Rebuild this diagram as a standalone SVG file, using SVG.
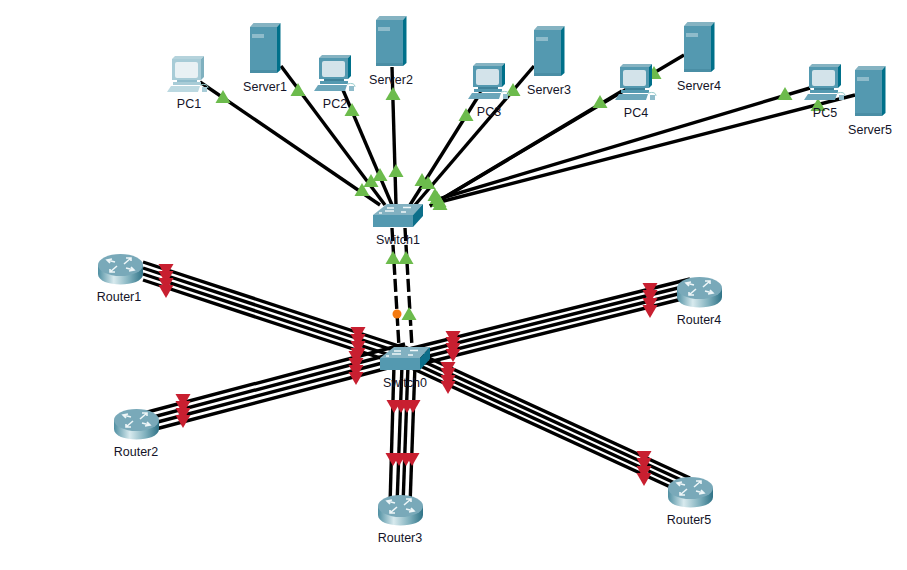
<svg xmlns="http://www.w3.org/2000/svg" width="907" height="570" viewBox="0 0 907 570">
<style>
text{font-family:"Liberation Sans",Arial,sans-serif;font-size:12.5px;fill:#141428;text-anchor:middle}
.l{stroke:#000;stroke-width:3.4;fill:none}
.d{stroke-dasharray:13 4}
.g{fill:#6cbb4c}
.r{fill:#c81f30}
.wh{stroke:#eef6f8;stroke-width:1.6;fill:none}
</style>
<defs>
<linearGradient id="cyl" x1="0" x2="1" y1="0" y2="0">
<stop offset="0" stop-color="#4f8fa2"/><stop offset=".35" stop-color="#d8eaee"/><stop offset=".7" stop-color="#7fb0bd"/><stop offset="1" stop-color="#2f7286"/>
</linearGradient>
<polygon id="gt" class="g" points="0,-7 7.5,6 -7.500,6"/>
<polygon id="rt" class="r" points="-7.500,0 7.500,0 0,13"/>
<g id="server">
<polygon points="0,0 3.5,-4 30.500,-4 27,0" fill="#85b3c2"/>
<polygon points="27,0 30.500,-4 30.500,43 27,46" fill="#00708a"/>
<rect x="0" y="0" width="27" height="46" fill="#5499b0"/>
<rect x="2" y="7" width="12" height="4" fill="#8fbccb"/>
<rect x="0" y="43" width="27" height="3" fill="#4a8ea5"/>
</g>
<g id="pc">
<polygon points="5,3 8,0 37,0 34,3" fill="#85b3c2"/>
<polygon points="34,3 37,0 37,21 34,24" fill="#00708a"/>
<rect x="5" y="3" width="29" height="21" fill="#5499b0"/>
<rect x="8" y="6" width="23" height="16" rx="2" fill="#d3e3ea"/>
<rect x="10" y="24" width="20" height="2" fill="#3f8299"/>
<rect x="6" y="26" width="28" height="3" fill="#5499b0"/>
<polygon points="4,30 33,30 31,36 0,36" fill="#6ba6ba"/>
<path d="M33,29 q8,-2 8,3" stroke="#9cc" fill="none"/>
<rect x="35" y="31" width="5" height="5" fill="#8fbccb"/>
</g>
<g id="pcl">
<polygon points="5,3 8,0 37,0 34,3" fill="#b5d3dc"/>
<polygon points="34,3 37,0 37,21 34,24" fill="#7fb0bf"/>
<rect x="5" y="3" width="29" height="21" fill="#a8ccd7"/>
<rect x="8" y="6" width="23" height="16" rx="2" fill="#e9f1f4"/>
<rect x="10" y="24" width="20" height="2" fill="#8fbccb"/>
<rect x="6" y="26" width="28" height="3" fill="#a8ccd7"/>
<polygon points="4,30 33,30 31,36 0,36" fill="#bcd9e1"/>
<path d="M33,29 q8,-2 8,3" stroke="#9cc" fill="none"/>
<rect x="35" y="31" width="5" height="5" fill="#a8ccd7"/>
</g>
<g id="router">
<path d="M0,11 V20 C0,34 45,34 45,20 V11 Z" fill="url(#cyl)"/>
<ellipse cx="22.500" cy="11" rx="22.500" ry="11" fill="#79a9b9"/>
<path class="wh" d="M9,6 L17,8 M14,5 L9,6 L12,9 M36,16 L28,14 M31,17 L36,16 L33,13 M26,10 L33,4 M28,4 L33,4 L33,7 M19,12 L12,18 M17,18 L12,18 L12,15"/>
</g>
<g id="switch">
<polygon points="0,11 14,0 50,0 40,11" fill="#82b1c1"/>
<polygon points="40,11 50,0 50,12 40,23" fill="#0c6f8a"/>
<rect x="0" y="11" width="40" height="12" fill="#5499b0"/>
<path class="wh" d="M12,7 h9 M14,4 h7 M30,3.500 h8 M28,8 h5 M6,9 h3"/>
</g>
</defs>
<rect width="907" height="570" fill="#fff"/>
<g id="connectors">
<g class="l">
<path d="M200,82 L380,205"/>
<path d="M281,66 L385,205"/>
<path d="M343,90 L392,205"/>
<path d="M392,67 L396,205"/>
<path d="M481,92 L410,205"/>
<path d="M534,66 L415,205"/>
<path d="M622,91 L430,206"/>
<path d="M684,55 L430,206"/>
<path d="M810,88 L432,201"/>
<path d="M855,95 L432,204"/>
<path class="d" d="M392,228 L399,347"/>
<path class="d" d="M405,228 L412,347"/>
<path d="M143,262 L405,348"/><path d="M143,268 L405,354"/><path d="M143,274 L405,360"/><path d="M143,280 L405,366"/>
<path d="M140,414 L405,344"/><path d="M140,420.500 L405,350.500"/><path d="M150,424 L405,357"/><path d="M150,430.500 L405,363.500"/>
<path d="M690,279 L405,350"/><path d="M690,285 L405,356"/><path d="M690,291 L405,362"/><path d="M690,297 L405,368"/>
<path d="M690,478 L405,347"/><path d="M690,484 L405,353"/><path d="M690,490 L405,359"/><path d="M690,496 L405,365"/>
<path d="M394,365 L390,505"/><path d="M402,365 L397,505"/><path d="M408,365 L403,505"/><path d="M415,365 L410,505"/>
</g>
<use href="#gt" x="223" y="97"/><use href="#gt" x="298" y="90"/><use href="#gt" x="352" y="110"/><use href="#gt" x="393" y="94"/>
<use href="#gt" x="466" y="115"/><use href="#gt" x="513" y="90"/><use href="#gt" x="600" y="102"/><use href="#gt" x="654" y="73"/>
<use href="#gt" x="785" y="94"/><use href="#gt" x="818" y="105"/>
<use href="#gt" x="362" y="190"/><use href="#gt" x="371" y="181"/><use href="#gt" x="380" y="175"/><use href="#gt" x="396" y="171"/>
<use href="#gt" x="422" y="180"/><use href="#gt" x="428" y="183"/><use href="#gt" x="435" y="195"/><use href="#gt" x="437" y="198"/>
<use href="#gt" x="439" y="201"/><use href="#gt" x="440" y="204"/>
<use href="#gt" x="393" y="258"/><use href="#gt" x="406" y="258"/><use href="#gt" x="409" y="314"/>
<circle cx="397" cy="314" r="4.500" fill="#f47a10"/>
<use href="#rt" x="166" y="264"/><use href="#rt" x="166" y="271"/><use href="#rt" x="166" y="278"/><use href="#rt" x="166" y="285"/>
<use href="#rt" x="358" y="327"/><use href="#rt" x="358" y="334"/><use href="#rt" x="358" y="341"/><use href="#rt" x="358" y="348"/>
<use href="#rt" x="356" y="351"/><use href="#rt" x="356" y="358"/><use href="#rt" x="356" y="365"/><use href="#rt" x="356" y="372"/>
<use href="#rt" x="183" y="394"/><use href="#rt" x="183" y="401"/><use href="#rt" x="183" y="408"/><use href="#rt" x="183" y="415"/>
<use href="#rt" x="650" y="283"/><use href="#rt" x="650" y="290"/><use href="#rt" x="650" y="298"/><use href="#rt" x="650" y="305"/>
<use href="#rt" x="453" y="331"/><use href="#rt" x="453" y="337"/><use href="#rt" x="453" y="343"/><use href="#rt" x="453" y="349"/>
<use href="#rt" x="448" y="362"/><use href="#rt" x="448" y="368"/><use href="#rt" x="448" y="375"/><use href="#rt" x="448" y="381"/>
<use href="#rt" x="644" y="451"/><use href="#rt" x="644" y="458"/><use href="#rt" x="644" y="466"/><use href="#rt" x="644" y="473"/>
<use href="#rt" x="394" y="400"/><use href="#rt" x="401" y="400"/><use href="#rt" x="407" y="400"/><use href="#rt" x="413" y="400"/>
<use href="#rt" x="393" y="453"/><use href="#rt" x="399" y="453"/><use href="#rt" x="406" y="453"/><use href="#rt" x="412" y="453"/>
</g>
<g id="PC1"><use href="#pcl" x="167" y="56"/><text x="189" y="108">PC1</text></g>
<g id="Server1"><use href="#server" x="250" y="27"/><text x="265" y="91">Server1</text></g>
<g id="PC2"><use href="#pc" x="314" y="55"/><text x="335" y="108">PC2</text></g>
<g id="Server2"><use href="#server" x="376" y="20"/><text x="391" y="84">Server2</text></g>
<g id="PC3"><use href="#pc" x="468" y="63"/><text x="489" y="116">PC3</text></g>
<g id="Server3"><use href="#server" x="534" y="30"/><text x="549" y="94">Server3</text></g>
<g id="PC4"><use href="#pc" x="615" y="64"/><text x="636" y="117">PC4</text></g>
<g id="Server4"><use href="#server" x="684" y="26"/><text x="699" y="90">Server4</text></g>
<g id="PC5"><use href="#pc" x="804" y="64"/><text x="825" y="117">PC5</text></g>
<g id="Server5"><use href="#server" x="855" y="70"/><text x="870" y="134">Server5</text></g>
<g id="Switch1"><use href="#switch" x="373" y="204"/><text x="398" y="244">Switch1</text></g>
<g id="Switch0"><use href="#switch" x="380" y="347"/><text x="405" y="387">Switch0</text></g>
<g id="Router1"><use href="#router" x="98" y="254"/><text x="119" y="301">Router1</text></g>
<g id="Router2"><use href="#router" x="114" y="409"/><text x="136" y="456">Router2</text></g>
<g id="Router3"><use href="#router" x="378" y="495"/><text x="400" y="542">Router3</text></g>
<g id="Router4"><use href="#router" x="677" y="277"/><text x="699" y="324">Router4</text></g>
<g id="Router5"><use href="#router" x="668" y="477"/><text x="689" y="524">Router5</text></g>
</svg>
